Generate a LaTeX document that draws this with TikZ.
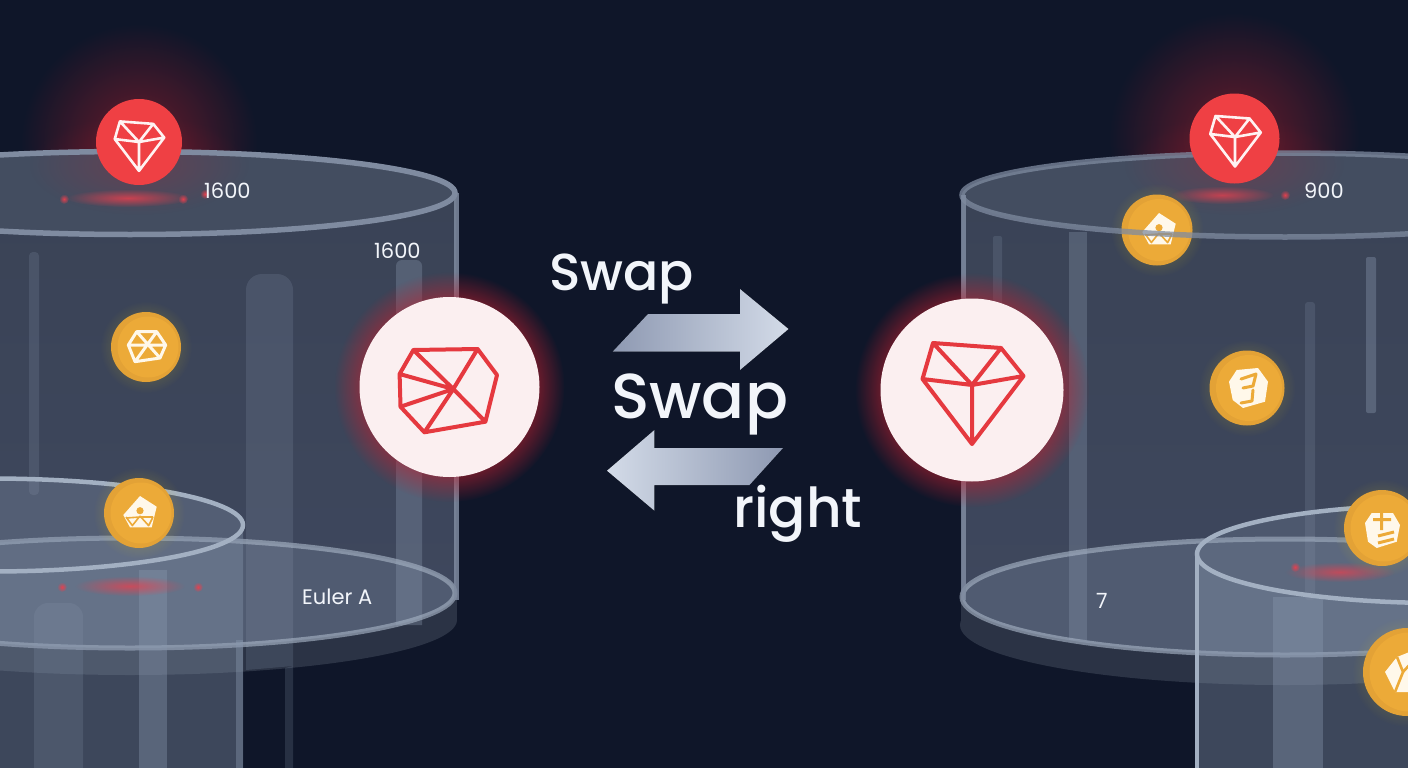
\documentclass[tikz,border=0pt]{standalone}
\usepackage{fontspec}
\setmainfont{Poppins}
\newfontfamily\medfont{Poppins Medium}
\usetikzlibrary{fadings}
\definecolor{bgc}{HTML}{0F1629}
\definecolor{bodytop}{HTML}{3A4356}
\definecolor{bodymid}{HTML}{3E475D}
\definecolor{bandc}{HTML}{2B3345}
\definecolor{slatec}{HTML}{8998AE}
\definecolor{rimc}{HTML}{7F8BA0}
\definecolor{rimb}{HTML}{A3B0C2}
\definecolor{redc}{HTML}{EF4044}
\definecolor{redi}{HTML}{E5393F}
\definecolor{redg}{HTML}{C2202F}
\definecolor{redr}{HTML}{E8404E}
\definecolor{ambo}{HTML}{E3A236}
\definecolor{ambi}{HTML}{ECAA38}
\definecolor{creamc}{HTML}{FFF8EA}
\definecolor{whitec}{HTML}{FBEFF0}
\definecolor{txtc}{HTML}{F2F5FA}
\definecolor{arrd}{HTML}{8E99B2}
\definecolor{arrl}{HTML}{D3DBE8}
\tikzfading[name=glowfade, inner color=transparent!0, outer color=transparent!100]
\pgfdeclareradialshading{ringsh}{\pgfpoint{0bp}{0bp}}{color(0bp)=(pgftransparent!0);color(18bp)=(pgftransparent!0);color(25bp)=(pgftransparent!100);color(50bp)=(pgftransparent!100)}
\pgfdeclarefading{ringfade}{\pgfuseshading{ringsh}}
\tikzset{
  rimtop/.style={draw=rimc, line width=5.5pt},
  rimlow/.style={draw=rimb, line width=5pt, draw opacity=.65},
  stripe/.style={fill=slatec, fill opacity=.2},
  stripehi/.style={fill=slatec, fill opacity=.38},
  small/.style={inner sep=0pt, anchor=base west, text=txtc, font=\fontsize{21}{21}\selectfont},
  big/.style={inner sep=0pt, anchor=base west, text=txtc, font=\medfont},
  icon/.style={line join=round, line cap=round},
}
\newcommand{\glowat}[6]{\fill[#5, path fading=glowfade, opacity=#6] (#1,#2) ellipse [x radius=#3, y radius=#4];}
\newcommand{\reddot}[2]{\fill[redr, path fading=glowfade, opacity=.95] (#1,#2) circle (5);}
\newcommand{\diamondicon}[5]{%
 \begin{scope}[shift={(#1,#2)}, xscale=#3, yscale=#3]
 \draw[#4, line width=#5, icon] (-39,-42) -- (29,-37) -- (51.5,-9) -- (0,59) -- (-49.5,-6) -- cycle
   (-49.5,-6) -- (0,0) -- (51.5,-9) (-39,-42) -- (0,0) -- (29,-37) (0,0) -- (0,59);
 \end{scope}}
\newcommand{\ambercoin}[3]{%
 \fill[yellow!80!orange, path fading=glowfade, opacity=.35] (#1,#2) circle (#3+11);
 \fill[ambo] (#1,#2) circle (#3);
 \fill[ambi] ({#1+2},#2) circle ({#3-4.5});}
\newcommand{\pentaicon}[3]{%
 \begin{scope}[shift={(#1,#2)}, xscale=#3, yscale=#3]
 \fill[creamc, line join=round] (1,-17) -- (17.7,-6.3) -- (12.7,14.3) -- (-9,14.3) -- (-15.7,2) -- cycle;
 \fill[ambi] (1,-2.3) circle (3.6);
 \draw[ambi, line width=1.6pt] (-13,5) -- (1,4) -- (14,4) (1,3) -- (-7,13) (1,3) -- (10,13) (-13,4) -- (-7,12) (14,4) -- (10,12);
 \end{scope}}
\begin{document}
\begin{tikzpicture}[x=1pt,y=-1pt]
\useasboundingbox (0,0) rectangle (1408,768);
\fill[bgc] (0,0) rectangle (1408,768);

% ---------- glows behind the cylinders
\glowat{139}{142}{118}{118}{redg}{.5}
\glowat{1234}{138}{125}{125}{redg}{.5}

% ---------- left cylinder
\fill[bandc] (-30,593) rectangle (457,620);
\fill[bandc] (130,620) ellipse [x radius=327, y radius=55];
\fill[top color=bodytop, bottom color=bodymid] (-30,193) rectangle (456,593);
\fill[bodymid] (130,593) ellipse [x radius=326, y radius=55];
\fill[bodytop] (130,193) ellipse [x radius=326, y radius=41.5];
\fill[stripe, rounded corners=4pt] (29,252) rectangle (39,495);
\fill[stripe] (246,670) [rounded corners=16pt] -- (246,274) -- (293,274) [sharp corners] -- (293,666) -- cycle;
\fill[stripe] (285,668) -- (293,666) -- (293,768) -- (285,768) -- cycle;
\fill[stripe, fill opacity=.34] (396,625) [rounded corners=6pt] -- (396,260) -- (422,260) [sharp corners] -- (422,625) -- cycle;
\fill[slatec, fill opacity=.25] (130,593) ellipse [x radius=326, y radius=55];
\draw[rimlow] (130,593) ellipse [x radius=325, y radius=55];
\draw[rimc, draw opacity=.85, line width=5pt] (456,193) -- (456,600);
% small left cylinder
\fill[slatec, fill opacity=.38] (243,525) arc [start angle=0, end angle=180, x radius=253, y radius=46.5] -- (-263,768) -- (243,768) -- cycle;
\fill[slatec, fill opacity=.3] (-10,525) ellipse [x radius=253, y radius=46.5];
\fill[stripe] (34,790) [rounded corners=14pt] -- (34,603) -- (83,603) [sharp corners] -- (83,790) -- cycle;
\fill[stripehi] (139,570) rectangle (167,768);
\fill[slatec, fill opacity=.4] (236,640) rectangle (243,768);
\draw[draw=rimb, line width=4.5pt] (-10,525) ellipse [x radius=253, y radius=46.5];
% top of left cylinder
\fill[slatec, fill opacity=.12] (130,193) ellipse [x radius=326, y radius=41.5];
\glowat{139}{165}{110}{50}{redg}{.25}
\draw[rimtop] (130,193) ellipse [x radius=325, y radius=41.5];

% ---------- right cylinder
\fill[bandc] (961,595) rectangle (1440,625);
\fill[bandc] (1285,625) ellipse [x radius=325, y radius=60];
\fill[top color=bodytop, bottom color=bodymid] (962,193) rectangle (1440,595);
\fill[bodymid] (1285,597) ellipse [x radius=323, y radius=58];
\fill[bodytop] (1285,195) ellipse [x radius=323, y radius=42];
\fill[stripe, rounded corners=2pt] (993,236) rectangle (1002,330);
\fill[stripe, fill opacity=.32] (1069,232) rectangle (1087,640);
\fill[stripe, rounded corners=3pt] (1305,302) rectangle (1315,600);
\fill[stripe, fill opacity=.38, rounded corners=2pt] (1366,257) rectangle (1376,413);
\fill[slatec, fill opacity=.25] (1285,597) ellipse [x radius=323, y radius=58];
\draw[rimlow] (1285,597) ellipse [x radius=323, y radius=58];
\draw[rimc, draw opacity=.85, line width=5pt] (963,195) -- (963,600);
% small right cylinder
\fill[slatec, fill opacity=.38] (1197,554) arc [start angle=180, end angle=0, x radius=243, y radius=49] -- (1683,768) -- (1197,768) -- cycle;
\fill[slatec, fill opacity=.22] (1440,554) ellipse [x radius=243, y radius=49];
\fill[stripehi] (1273,597) rectangle (1323,768);
\draw[rimb, line width=4.5pt] (1197,552) -- (1197,768);
% top of right cylinder
\fill[slatec, fill opacity=.12] (1285,195) ellipse [x radius=323, y radius=42];
\glowat{1234}{165}{110}{50}{redg}{.25}

% ---------- red reflections
\glowat{128}{198}{62}{9}{redr}{.8}
\reddot{64}{199}\reddot{183}{199}\reddot{205}{194}
\glowat{130}{586}{55}{10}{redr}{.75}
\reddot{62}{587}\reddot{198}{587}
\glowat{1222}{195}{52}{9}{redr}{.75}
\reddot{1285}{195}
\glowat{1340}{572}{55}{10}{redr}{.7}
\reddot{1295}{567}

% ---------- upper-right amber coin sits under the rim
\ambercoin{1157}{230}{35.5}
\pentaicon{1158}{230}{1}
\draw[rimtop, draw opacity=.75] (1285,195) ellipse [x radius=323, y radius=42];
\draw[draw=rimb, line width=4.5pt] (1440,554) ellipse [x radius=243, y radius=49];

% ---------- red coins
\fill[redc] (139,142) circle (43);
\diamondicon{139}{142}{.49}{white!95!red}{2.6pt}
\fill[redc] (1234.5,138.5) circle (45);
\diamondicon{1235}{137}{.5}{white!95!red}{2.6pt}

% ---------- amber coins
\ambercoin{146}{347}{35}
\draw[creamc, line width=3pt, icon] (136.7,331.7) -- (156.7,331.7) -- (165.7,345) -- (160,358) -- (135,361.7) -- (128.3,345) -- cycle
  (136.7,331.7) -- (160,358) (156.7,331.7) -- (135,361.7) (128.3,345) -- (165.7,345);
\ambercoin{139}{513}{35}
\pentaicon{139}{513}{1}
\ambercoin{1247}{388}{37.5}
\fill[creamc, line join=round] (1236.7,370) -- (1258,368) -- (1268,381.7) -- (1265,401.7) -- (1243,408) -- (1232.7,400) -- (1229,381.7) -- cycle;
\draw[ambi, line width=3pt, icon] (1241,379) -- (1256,374) -- (1253,386) -- (1243,388) (1253,390) -- (1252,401) -- (1241,403);
\ambercoin{1382}{528}{38}
\fill[creamc, line join=round] (1365,523) -- (1371.7,513) -- (1393,513) -- (1400,525) -- (1396.7,541.7) -- (1376.7,548) -- (1368,541.7) -- cycle;
\draw[ambi, line width=3pt] (1381.7,511) -- (1381.7,530) (1373,519.5) -- (1391,519.5) (1378,536) -- (1394,532) (1378,543) -- (1394,539);
\ambercoin{1407}{672}{44}
\fill[creamc, line join=round] (1385,672) -- (1397,657) -- (1412,651) -- (1412,692) -- (1395,692) -- cycle;
\draw[ambi, line width=2.6pt] (1397,657) -- (1403,672) -- (1395,692) (1403,672) -- (1412,662);

% ---------- large circles
\fill[redg, path fading=ringfade, opacity=.6] (449.5,387) circle (115);
\fill[whitec] (449.5,387) circle (90);
\draw[redi, line width=4pt, icon] (413.4,350) -- (477.6,349) -- (497,375) -- (485.4,421.7) -- (424.4,432.3) -- (400.5,406.7) -- (399.6,374) -- cycle
 (453.3,389) -- (413.4,350) (453.3,389) -- (477.6,349) (453.3,389) -- (485.4,421.7) (453.3,389) -- (424.4,432.3) (453.3,389) -- (400.5,406.7) (453.3,389) -- (399.6,374);
\fill[redg, path fading=ringfade, opacity=.6] (972,390) circle (117);
\fill[whitec] (972,390) circle (91.5);
\diamondicon{972}{385}{1}{redi}{4pt}

% ---------- arrows
\fill[left color=arrd, right color=arrl] (612.6,351.7) -- (648,314) -- (740,314) -- (740,289) -- (788.5,329) -- (740,370) -- (740,351.7) -- cycle;
\fill[left color=arrl, right color=arrd] (607,470.7) -- (654.4,430) -- (654.4,448) -- (783,448) -- (749.5,485) -- (654.4,485) -- (654.4,510.7) -- cycle;

% ---------- texts
\node[big, font=\medfont\fontsize{52}{52}\selectfont] (swapa) at (549,290) {Swap};
\node[big, font=\medfont\fontsize{63.5}{64}\selectfont] (swapb) at (611,418) {Swap};
\node[big, font=\medfont\fontsize{55}{56}\selectfont] (rightt) at (733,527) {right};
\node[small] (na) at (204,198) {1600};
\node[small] (nb) at (374,258) {1600};
\node[small] (nc) at (1304,198) {900};
\node[small] (eu) at (302,604) {Euler A};
\node[small] (sv) at (1096,608) {7};
\end{tikzpicture}
\end{document}
